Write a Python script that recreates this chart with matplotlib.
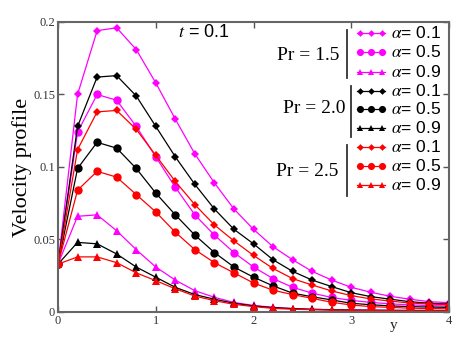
import numpy as np
import matplotlib
matplotlib.use("Agg")
import matplotlib.pyplot as plt
from matplotlib.lines import Line2D

plt.rcParams['mathtext.fontset'] = 'stix'

# distance from the plate, sampled every 0.2
y_pos = [0.0, 0.2, 0.4, 0.6, 0.8, 1.0, 1.2, 1.4, 1.6, 1.8, 2.0,
         2.2, 2.4, 2.6, 2.8, 3.0, 3.2, 3.4, 3.6, 3.8, 4.0]

# Pr = 1.5
pr15_a01 = [0.033, 0.150, 0.194, 0.196, 0.181, 0.158, 0.133, 0.109, 0.089, 0.071, 0.057,
            0.045, 0.036, 0.028, 0.022, 0.017, 0.0136, 0.0108, 0.0088, 0.0071, 0.0064]
pr15_a05 = [0.033, 0.124, 0.150, 0.146, 0.128, 0.107, 0.086, 0.067, 0.053, 0.041, 0.031,
            0.023, 0.017, 0.013, 0.0100, 0.0080, 0.0066, 0.0056, 0.0049, 0.0044, 0.0041]
pr15_a09 = [0.033, 0.066, 0.067, 0.056, 0.043, 0.031, 0.022, 0.0147, 0.0101, 0.0066, 0.0045,
            0.0032, 0.0024, 0.0019, 0.0016, 0.0014, 0.0013, 0.0012, 0.0011, 0.0011, 0.0010]

# Pr = 2.0
pr20_a01 = [0.033, 0.128, 0.162, 0.163, 0.149, 0.128, 0.107, 0.088, 0.071, 0.057, 0.047,
            0.036, 0.028, 0.022, 0.0175, 0.0133, 0.0106, 0.0088, 0.0071, 0.0060, 0.0055]
pr20_a05 = [0.033, 0.099, 0.117, 0.113, 0.099, 0.082, 0.067, 0.053, 0.041, 0.031, 0.024,
            0.018, 0.013, 0.0105, 0.0083, 0.0060, 0.0050, 0.0042, 0.0037, 0.0034, 0.0032]
pr20_a09 = [0.033, 0.048, 0.047, 0.040, 0.031, 0.024, 0.017, 0.012, 0.0088, 0.0060, 0.0042,
            0.0030, 0.0023, 0.0018, 0.0015, 0.0013, 0.0012, 0.0011, 0.0010, 0.0010, 0.0009]

# Pr = 2.5
pr25_a01 = [0.033, 0.112, 0.138, 0.139, 0.126, 0.108, 0.090, 0.074, 0.060, 0.049, 0.039,
            0.030, 0.023, 0.0186, 0.0145, 0.0113, 0.0090, 0.0075, 0.0062, 0.0055, 0.0050]
pr25_a05 = [0.033, 0.084, 0.097, 0.093, 0.081, 0.069, 0.055, 0.043, 0.034, 0.027, 0.020,
            0.015, 0.012, 0.0094, 0.0067, 0.0048, 0.0037, 0.0032, 0.0026, 0.0024, 0.0022]
pr25_a09 = [0.033, 0.038, 0.038, 0.034, 0.027, 0.0216, 0.016, 0.011, 0.0078, 0.0053, 0.0037,
            0.0025, 0.0019, 0.0016, 0.0013, 0.0011, 0.0010, 0.0009, 0.0008, 0.0008, 0.0008]

pr_labels = ['Pr = 1.5', 'Pr = 2.0', 'Pr = 2.5']
alpha_labels = ['0.1', '0.5', '0.9']
colors = ['#ff00ff', 'black', 'red']
markers = ['D', 'o', '^']
msizes = [4.0, 6.0, 5.5]

groups = [[pr15_a01, pr15_a05, pr15_a09],
          [pr20_a01, pr20_a05, pr20_a09],
          [pr25_a01, pr25_a05, pr25_a09]]

fig = plt.figure(figsize=(4.74, 3.45), dpi=100)
ax = fig.add_axes([0.1224, 0.0957, 0.8249, 0.8406])

for g, series in enumerate(groups):
    for k, vals in enumerate(series):
        ax.plot(y_pos, vals, color=colors[g], marker=markers[k], markersize=msizes[k],
                linewidth=0.9, markeredgewidth=0)

ax.set_xlim(0, 4)
ax.set_ylim(0, 0.2)
ax.set_xticks([0, 1, 2, 3, 4])
ax.set_xticklabels(['0', '1', '2', '3', '4'])
ax.set_yticks([0, 0.05, 0.1, 0.15, 0.2])
ax.set_yticklabels(['0', '0.05', '0.1', '0.15', '0.2'])
ax.tick_params(direction='in', length=4, width=1, color='#555555',
               top=True, right=True, labelsize=9, labelcolor='#333333', pad=2)
for lab in ax.get_xticklabels() + ax.get_yticklabels():
    lab.set_family('Liberation Serif')
for sp in ax.spines.values():
    sp.set_color('#666666')
    sp.set_linewidth(1.5)

ax.set_ylabel('Velocity profile', family='Liberation Serif', fontsize=16, labelpad=1)
ax.text(3.43, -0.0045, 'y', family='Liberation Serif', fontsize=11,
        ha='center', va='top', color='#222222')

ax.text(0.307, 0.962, r'$t$ = 0.1', transform=ax.transAxes, family='Liberation Sans',
        fontsize=13, va='center', ha='left')

# grouped legend: Pr label, vertical bar, three alpha entries
rows = [0.962, 0.897, 0.828, 0.762, 0.700, 0.634, 0.569, 0.503, 0.438]
pr_pos = [(0.719, 0.886), (0.734, 0.703), (0.716, 0.483)]
bars = [(0.740, 0.807, 0.972), (0.750, 0.603, 0.779), (0.738, 0.400, 0.576)]
for g in range(3):
    ax.text(pr_pos[g][0], pr_pos[g][1], pr_labels[g], transform=ax.transAxes,
            family='Liberation Serif', fontsize=14, ha='right', va='center')
    bx, b0, b1 = bars[g]
    ax.add_line(Line2D([bx, bx], [b0, b1], transform=ax.transAxes,
                       color='#333333', linewidth=1.3))
    for k in range(3):
        ry = rows[3 * g + k]
        ax.add_line(Line2D([0.765, 0.836], [ry, ry], transform=ax.transAxes,
                           color=colors[g], linewidth=0.9))
        ax.add_line(Line2D([0.772, 0.801, 0.829], [ry] * 3, transform=ax.transAxes,
                           color=colors[g], linestyle='none', marker=markers[k],
                           markersize=msizes[k] * 0.85, markeredgewidth=0))
        ax.text(0.852, ry, r'$\alpha$= ' + alpha_labels[k], transform=ax.transAxes,
                family='Liberation Sans', fontsize=12.5, ha='left', va='center')

fig.savefig('out.png', dpi=100)
